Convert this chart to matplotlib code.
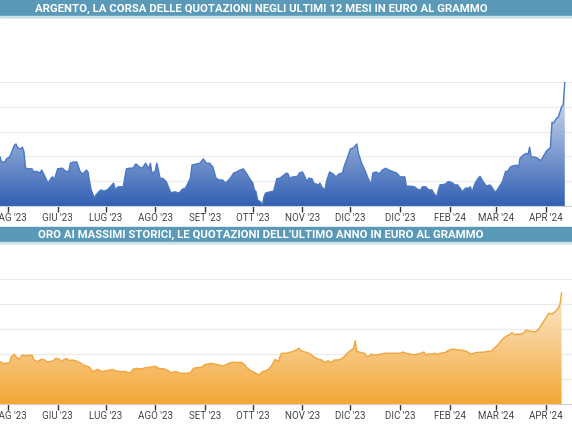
import numpy as np
import pandas as pd
import matplotlib
matplotlib.use("Agg")
import matplotlib.pyplot as plt
from matplotlib.colors import LinearSegmentedColormap
from matplotlib.patches import Rectangle

plt.rcParams['font.family'] = ['Roboto', 'DejaVu Sans']

# ---- dati (giorni dal 1 maggio 2023, valori in euro al grammo) ----
start = pd.Timestamp("2023-05-01")

argento_giorni = [
    -5, -4, -2, -1, 1, 2, 4, 5, 6, 8, 9, 10, 11, 13, 15, 16, 18, 20, 21, 23,
    25, 27, 28, 29, 31, 34, 36, 38, 39, 41, 43, 45, 46, 47, 49, 50, 51, 52, 54, 55,
    58, 60, 62, 64, 66, 67, 69, 72, 74, 76, 78, 80, 82, 84,
    86, 88, 89, 90, 92, 93, 94, 95, 97, 99, 101, 102, 104, 107, 109, 111, 114, 115,
    118, 120, 122, 124, 126, 128, 130, 132, 134, 136, 139, 141, 143, 145, 147, 149,
    151, 153, 154, 155, 156, 158, 159, 160, 161, 164, 166, 168, 170, 171, 174,
    175, 176, 178, 179, 181, 182, 184, 185, 187, 188, 190, 191, 194, 195, 196, 198,
    199, 201, 203, 205, 207, 209, 210, 212, 214, 216, 218, 219, 221, 223, 225, 227,
    228, 230, 232, 234, 236, 238, 240, 243, 245, 247, 248, 249, 251, 254, 256, 258,
    259, 261, 263,
    265, 266, 268, 269, 270, 273, 275, 276, 278, 279, 281, 283, 284, 286, 288, 289,
    290, 292, 294, 295, 297, 299, 301, 302, 304, 305, 307, 309, 311, 312, 314, 316,
    318, 319, 320, 322, 324, 325, 326, 327, 329, 331, 333, 335, 337, 339, 340, 341,
    343, 344, 346, 347, 348,
]
argento_valori = [
    0.719, 0.711, 0.711, 0.716, 0.719, 0.725, 0.738, 0.740, 0.734, 0.732, 0.735, 0.727,
    0.701, 0.700, 0.700, 0.695, 0.696, 0.693, 0.698, 0.688, 0.677, 0.685, 0.687, 0.682,
    0.700, 0.701, 0.696, 0.696, 0.709, 0.711, 0.711, 0.696, 0.693, 0.692, 0.698, 0.695,
    0.679, 0.666, 0.653, 0.658, 0.666, 0.664, 0.666, 0.671, 0.677, 0.667, 0.671, 0.671,
    0.700, 0.701, 0.701, 0.708, 0.703, 0.701,
    0.709, 0.700, 0.709, 0.693, 0.696, 0.709, 0.698, 0.685, 0.684, 0.679, 0.666, 0.661,
    0.663, 0.661, 0.667, 0.669, 0.685, 0.706, 0.708, 0.709, 0.716, 0.709, 0.709, 0.703,
    0.685, 0.682, 0.682, 0.677, 0.685, 0.693, 0.695, 0.698, 0.700, 0.693, 0.684, 0.677,
    0.666, 0.663, 0.650, 0.646, 0.642, 0.655, 0.661, 0.663, 0.664, 0.684, 0.685, 0.687,
    0.693,
    0.692, 0.685, 0.687, 0.687, 0.688, 0.693, 0.695, 0.690, 0.679, 0.685, 0.684, 0.677,
    0.674, 0.677, 0.671, 0.666, 0.679, 0.695, 0.692, 0.687, 0.692, 0.693, 0.703, 0.717,
    0.732, 0.734, 0.740, 0.725, 0.709, 0.698, 0.685, 0.674, 0.693, 0.695, 0.692, 0.698,
    0.701, 0.698, 0.696, 0.693, 0.687, 0.687, 0.687, 0.672, 0.672, 0.671, 0.667, 0.666,
    0.671, 0.671, 0.666,
    0.666, 0.661, 0.655, 0.666, 0.674, 0.675, 0.679, 0.679, 0.677, 0.674, 0.674, 0.667,
    0.663, 0.669, 0.669, 0.671, 0.663, 0.677, 0.685, 0.688, 0.679, 0.672, 0.674, 0.672,
    0.664, 0.663, 0.671, 0.679, 0.696, 0.695, 0.703, 0.705, 0.706, 0.701, 0.717, 0.722,
    0.725, 0.722, 0.735, 0.719, 0.719, 0.717, 0.713, 0.722, 0.730, 0.734, 0.775, 0.774,
    0.782, 0.784, 0.800, 0.803, 0.840,
]

oro_giorni = [
    -5, -3, -1, 1, 2, 4, 5, 7, 9, 11, 13, 15, 16, 18, 20, 21, 23, 24, 26, 28,
    30, 32, 34, 35, 37, 38, 40, 42, 45, 47, 49, 51, 53, 55, 56, 59, 61, 64, 65, 67,
    69, 71, 73, 75, 77, 78, 80, 83, 84,
    86, 89, 91, 92, 94, 96, 98, 100, 102, 104, 106, 108, 111, 114, 116, 118, 121, 123,
    125, 127, 130, 132, 134, 136, 138, 140, 143, 145, 146, 148, 149, 151, 153, 155,
    157, 159, 161, 163, 165, 167, 169, 170, 171, 174,
    175, 178, 180, 182, 183, 185, 187, 189, 191, 194, 196, 198, 200, 202, 204, 206,
    208, 210, 212, 214, 216, 217, 218, 219, 221, 223, 224, 226, 227, 229, 231, 233,
    235, 238, 241, 245, 247, 249, 251, 254, 256, 258, 260, 261, 263,
    265, 267, 269, 270, 273, 275, 277, 279, 281, 283, 285, 287, 289, 290, 292, 294,
    296, 299, 300, 302, 303, 305, 307, 309, 311, 313, 315, 317, 318, 320, 322, 324,
    325, 328, 330, 332, 334, 336, 338, 340, 342, 344, 345, 346,
]
oro_valori = [
    58.46, 58.14, 58.14, 58.26, 59.46, 59.94, 59.46, 58.94, 59.80, 59.66, 59.74, 59.74,
    58.94, 58.46, 58.80, 58.94, 58.80, 58.40, 58.46, 58.60, 59.14, 58.94, 58.46, 58.94,
    59.06, 58.66, 58.80, 58.66, 58.26, 57.80, 57.60, 57.34, 56.46, 56.80, 56.94, 56.46,
    56.66, 56.80, 56.94, 56.66, 56.54, 56.46, 56.54, 56.26, 56.34, 56.94, 57.14, 57.00,
    57.06,
    57.26, 57.34, 57.46, 57.60, 57.14, 57.06, 57.00, 56.66, 56.26, 56.46, 56.40, 56.14,
    56.14, 56.26, 57.14, 57.26, 57.34, 57.86, 58.00, 58.14, 57.94, 57.80, 57.60, 57.80,
    58.14, 58.34, 58.34, 58.26, 58.34, 57.80, 57.34, 56.80, 56.46, 56.14, 55.80, 56.46,
    56.66, 56.94, 57.80, 58.94, 58.46, 59.46, 60.14, 60.14,
    60.26, 60.46, 60.80, 61.14, 60.66, 60.46, 60.26, 60.00, 59.46, 58.94, 58.80, 58.26,
    58.66, 58.26, 58.80, 58.80, 58.94, 59.46, 60.14, 60.66, 61.14, 62.66, 60.46, 60.46,
    60.26, 60.14, 59.46, 59.60, 60.00, 59.80, 59.80, 60.00, 60.14, 60.14, 60.14, 60.14,
    60.40, 60.14, 60.00, 59.80, 60.00, 60.14, 60.40, 59.80, 60.00,
    60.00, 60.14, 59.86, 60.14, 60.26, 60.66, 60.94, 60.94, 60.80, 60.80, 60.66, 60.46,
    60.00, 60.00, 60.26, 60.34, 60.34, 60.46, 60.60, 60.46, 60.94, 61.46, 62.14, 62.94,
    63.46, 63.80, 64.26, 63.80, 64.00, 63.94, 64.14, 64.80, 64.66, 64.46, 64.46, 65.14,
    66.14, 67.14, 68.14, 68.00, 68.46, 69.14, 70.00, 72.30,
]

etichette_mesi = ["MAG '23", "GIU '23", "LUG '23", "AGO '23", "SET '23", "OTT '23",
                  "NOV '23", "DIC '23", "DIC '23", "FEB '24", "MAR '24", "APR '24"]

titolo_argento = "ARGENTO, LA CORSA DELLE QUOTAZIONI NEGLI ULTIMI 12 MESI IN EURO AL GRAMMO"
titolo_oro = "ORO AI MASSIMI STORICI, LE QUOTAZIONI DELL\u2019ULTIMO ANNO IN EURO AL GRAMMO"

argento_ticks = [0.64, 0.68, 0.72, 0.76, 0.80, 0.84]
oro_ticks = [50, 55, 60, 65, 70, 75]

# posizione dei tick: inizio di ogni mese
mesi = pd.date_range("2023-05-01", "2024-04-01", freq="MS")
tick_giorni = [(m - start).days for m in mesi]

W, H = 572, 429
fig = plt.figure(figsize=(W / 100, H / 100), dpi=100)
BAR = "#5a9ab8"


def barra_titolo(y0, y1, testo):
    fig.patches.append(Rectangle((0, 1 - y1 / H), 1, (y1 - y0) / H,
                                 transform=fig.transFigure, color=BAR, zorder=0))
    fig.patches.append(Rectangle((0, 1 - y1 / H), 1, 1.2 / H,
                                 transform=fig.transFigure, color="#cfe1ea", zorder=1))
    fig.text(261 / W, 1 - (y0 + y1) / 2 / H, testo, ha="center", va="center",
             color="white", fontsize=8.2, fontweight="bold")


def pannello(top_px, bot_px, giorni, valori, ticks, c_top, c_bot, c_line):
    ax = fig.add_axes([0, 1 - bot_px / H, 1, (bot_px - top_px) / H])
    x0, x1 = -5, (W - 8) / 1.6
    y0, y1 = ticks[0], ticks[-1]
    ax.set_xlim(x0, x1)
    ax.set_ylim(y0, y1)

    poly = ax.fill_between(giorni, valori, y0, color="none", lw=0)
    cmap = LinearSegmentedColormap.from_list("g", [c_bot, c_top])
    grad = np.linspace(0, 1, 256).reshape(-1, 1)
    im = ax.imshow(grad, cmap=cmap, aspect="auto", origin="lower",
                   extent=[x0, x1, y0, y1], zorder=2)
    im.set_clip_path(poly.get_paths()[0], transform=ax.transData)
    ax.plot(giorni, valori, color=c_line, lw=1.0, zorder=3)

    ax.set_yticks(ticks)
    ax.grid(axis="y", color="#ebebeb", lw=0.9, zorder=0)
    ax.set_axisbelow(True)
    ax.tick_params(axis="y", left=False, labelleft=False)
    ax.set_xticks(tick_giorni)
    ax.set_xticklabels(etichette_mesi)
    ax.tick_params(axis="x", length=4, width=1, color="#333333",
                   labelsize=7, labelcolor="#444444", pad=1)
    for s in ["top", "left", "right"]:
        ax.spines[s].set_visible(False)
    ax.spines["bottom"].set_color("#d0d0d0")
    ax.spines["bottom"].set_linewidth(0.8)
    return ax


barra_titolo(0, 17, titolo_argento)
pannello(82, 206, argento_giorni, argento_valori, argento_ticks,
         "#e4eaf6", "#3260b3", "#4a78c8")

barra_titolo(227, 243, titolo_oro)
pannello(279, 404, oro_giorni, oro_valori, oro_ticks,
         "#fdf3e4", "#f3a736", "#f2a53c")

fig.savefig("out.png", dpi=100)
